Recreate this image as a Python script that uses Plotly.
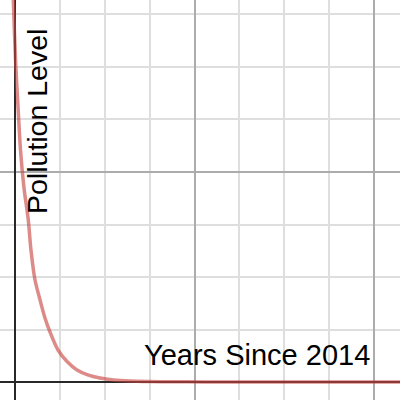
import plotly.graph_objects as go

# Values (x: years since 2014, y: pollution level)
years = [-0.045, -0.019, 0.006, 0.035, 0.061, 0.100, 0.148, 0.178, 0.223, 0.279,
         0.334, 0.390, 0.479, 0.580, 0.691, 0.810, 0.947, 1.100, 1.281, 1.500,
         1.727, 2.100, 2.618, 4.35]
pollution = [4.3, 3.638, 3.067, 2.600, 2.210, 1.850, 1.543, 1.257, 0.971, 0.781,
             0.610, 0.476, 0.305, 0.195, 0.114, 0.068, 0.038, 0.020, 0.010, 0.005,
             0.002, 0.001, 0.0, 0.0]

x_title = "Years Since 2014"
y_title = "Pollution Level"

fig = go.Figure()
fig.add_trace(go.Scatter(
    x=years, y=pollution, mode="lines",
    line=dict(color="rgba(199,68,64,0.62)", width=3.5, shape="spline", smoothing=0.8),
    hoverinfo="skip", showlegend=False, cliponaxis=True,
))

axis_common = dict(
    showticklabels=False, ticks="", showline=False,
    zeroline=True, zerolinecolor="rgb(40,40,40)", zerolinewidth=2,
    showgrid=True, gridcolor="rgb(172,172,172)", gridwidth=1.5,
    tick0=0, dtick=2,
    minor=dict(tick0=0, dtick=0.5, showgrid=True, gridcolor="rgb(222,222,222)", gridwidth=1.5),
    fixedrange=True,
)

fig.update_layout(
    width=400, height=400,
    margin=dict(l=0, r=0, t=0, b=0),
    paper_bgcolor="white", plot_bgcolor="white",
    xaxis=dict(range=[-0.1671, 4.2897], **axis_common),
    yaxis=dict(range=[-0.1714, 3.638], **axis_common),
    font=dict(family="Liberation Sans, Arial, sans-serif", color="black"),
    annotations=[
        dict(text=y_title, xref="paper", yref="paper", x=0.0925, y=0.695,
             textangle=-90, showarrow=False, font=dict(size=28.5),
             xanchor="center", yanchor="middle"),
        dict(text=x_title, xref="paper", yref="paper", x=0.6425, y=0.113,
             showarrow=False, font=dict(size=29),
             xanchor="center", yanchor="middle"),
    ],
)

fig.write_html("out.html", config={"displayModeBar": False},
               post_script="document.body.style.margin='0';")
